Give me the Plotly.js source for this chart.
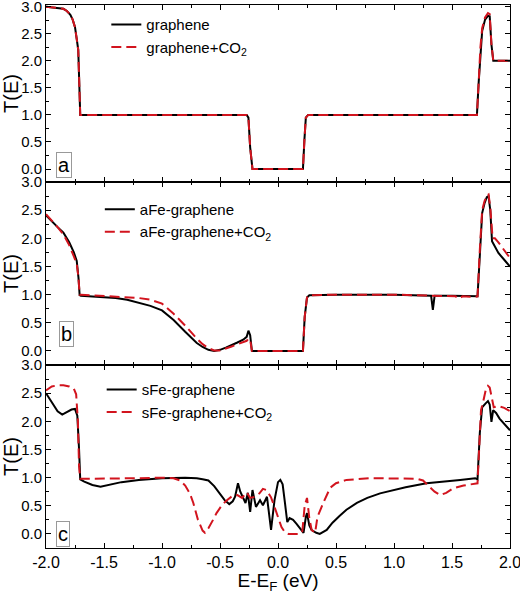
<!DOCTYPE html>
<html><head><meta charset="utf-8">
<script src="https://cdn.plot.ly/plotly-3.0.1.min.js"></script>
<style>html,body{margin:0;padding:0;background:#fff}#chart{width:520px;height:594px}</style>
</head><body><div id="chart"></div>
<script>
// Panel a: graphene
const xA_g = [-2.0,-1.95,-1.9,-1.85,-1.82,-1.79,-1.77,-1.75,-1.735,-1.722,-1.712,-1.705,-1.69,-1.5,-1.0,-0.5,-0.27,-0.255,-0.24,-0.22,0.0,0.215,0.228,0.24,0.26,0.5,1.0,1.5,1.715,1.73,1.745,1.76,1.785,1.81,1.825,1.84,1.856,1.9,2.0];
const tA_g = [3.0,2.99,2.98,2.96,2.92,2.85,2.76,2.62,2.4,2.2,1.5,1.0,1.0,1.0,1.0,1.0,1.0,0.95,0.4,0.0,0.0,0.0,0.55,0.95,1.0,1.0,1.0,1.0,1.0,1.6,2.2,2.55,2.76,2.83,2.82,2.3,2.0,2.0,2.0];
const xA_c = [-2.0,-1.95,-1.9,-1.85,-1.82,-1.79,-1.77,-1.75,-1.735,-1.722,-1.712,-1.705,-1.69,-1.5,-1.0,-0.5,-0.27,-0.255,-0.24,-0.22,0.0,0.215,0.228,0.24,0.26,0.5,1.0,1.5,1.715,1.73,1.745,1.76,1.785,1.81,1.825,1.84,1.856,1.9,2.0];
const tA_c = [3.0,2.99,2.98,2.96,2.92,2.85,2.76,2.62,2.4,2.2,1.5,1.0,1.0,1.0,1.0,1.0,1.0,0.95,0.4,0.0,0.0,0.0,0.55,0.95,1.0,1.0,1.0,1.0,1.0,1.6,2.25,2.6,2.8,2.88,2.86,2.3,2.0,2.0,2.0];

// Panel b: aFe-graphene
const xB_g = [-2.0,-1.95,-1.9,-1.85,-1.8,-1.76,-1.735,-1.72,-1.71,-1.7,-1.6,-1.5,-1.4,-1.3,-1.2,-1.1,-1.0,-0.9,-0.8,-0.7,-0.65,-0.6,-0.55,-0.5,-0.45,-0.4,-0.35,-0.3,-0.27,-0.255,-0.24,-0.225,-0.2,0.0,0.215,0.23,0.25,0.27,0.5,1.0,1.3,1.32,1.335,1.35,1.5,1.6,1.7,1.72,1.74,1.76,1.78,1.80,1.815,1.83,1.845,1.87,1.9,1.95,2.0];
const tB_g = [2.41,2.3,2.2,2.1,1.93,1.75,1.6,1.3,0.99,0.98,0.97,0.96,0.94,0.91,0.86,0.8,0.72,0.55,0.34,0.14,0.07,0.02,0.0,0.02,0.06,0.1,0.15,0.2,0.25,0.36,0.28,0.0,0.0,0.0,0.0,0.6,0.95,0.99,1.0,1.0,0.99,0.98,0.73,0.98,0.98,0.97,0.96,0.97,1.7,2.45,2.62,2.73,2.75,2.5,1.95,1.85,1.74,1.62,1.5];
const xB_c = [-2.0,-1.95,-1.9,-1.85,-1.8,-1.76,-1.735,-1.72,-1.71,-1.7,-1.6,-1.5,-1.4,-1.3,-1.2,-1.1,-1.0,-0.9,-0.8,-0.7,-0.65,-0.6,-0.55,-0.5,-0.45,-0.4,-0.35,-0.3,-0.27,-0.255,-0.24,-0.225,-0.2,0.0,0.215,0.23,0.25,0.27,0.5,1.0,1.5,1.53,1.56,1.59,1.7,1.72,1.74,1.76,1.78,1.80,1.815,1.83,1.85,1.87,1.9,1.95,2.0];
const tB_c = [2.43,2.32,2.2,2.07,1.88,1.68,1.55,1.3,1.0,1.0,0.99,0.98,0.97,0.96,0.94,0.91,0.84,0.66,0.45,0.22,0.12,0.05,0.01,0.01,0.04,0.08,0.12,0.16,0.18,0.22,0.2,0.0,0.0,0.0,0.0,0.6,0.95,0.99,1.0,1.0,0.98,0.97,0.93,0.97,0.96,0.97,1.8,2.5,2.66,2.76,2.78,2.55,2.0,2.0,1.93,1.8,1.65];

// Panel c: sFe-graphene
const xC_g = [-2.0,-1.95,-1.9,-1.86,-1.82,-1.78,-1.75,-1.73,-1.715,-1.705,-1.67,-1.6,-1.53,-1.45,-1.35,-1.2,-1.0,-0.8,-0.7,-0.65,-0.6,-0.55,-0.5,-0.46,-0.42,-0.39,-0.37,-0.345,-0.325,-0.31,-0.28,-0.26,-0.24,-0.22,-0.19,-0.155,-0.13,-0.095,-0.06,-0.03,0.0,0.02,0.04,0.06,0.08,0.10,0.13,0.16,0.19,0.22,0.24,0.25,0.27,0.29,0.33,0.36,0.42,0.47,0.53,0.59,0.68,0.77,0.88,0.99,1.1,1.28,1.4,1.57,1.70,1.72,1.74,1.76,1.79,1.81,1.825,1.84,1.855,1.88,1.91,1.95,2.0];
const tC_g = [2.5,2.33,2.18,2.12,2.17,2.21,2.22,2.1,1.5,0.97,0.93,0.87,0.84,0.87,0.92,0.96,0.99,1.0,0.99,0.97,0.95,0.85,0.72,0.6,0.53,0.58,0.66,0.9,0.75,0.69,0.55,0.73,0.39,0.78,0.48,0.6,0.51,0.66,0.07,0.6,0.92,0.96,0.88,0.55,0.21,0.28,0.25,0.18,0.1,0.02,0.3,0.37,0.15,0.07,0.02,0.0,0.07,0.2,0.32,0.43,0.55,0.64,0.72,0.78,0.83,0.9,0.93,0.96,0.99,0.97,1.8,2.25,2.32,2.36,2.3,1.99,2.2,2.15,2.05,1.96,1.84];
const xC_c = [-2.0,-1.95,-1.9,-1.85,-1.8,-1.76,-1.74,-1.725,-1.715,-1.705,-1.6,-1.4,-1.2,-1.0,-0.9,-0.845,-0.8,-0.76,-0.73,-0.69,-0.65,-0.63,-0.6,-0.56,-0.53,-0.48,-0.44,-0.39,-0.35,-0.31,-0.27,-0.24,-0.2,-0.16,-0.13,-0.1,-0.06,-0.03,0.0,0.03,0.06,0.09,0.19,0.21,0.23,0.25,0.27,0.29,0.32,0.34,0.39,0.45,0.5,0.59,0.8,0.99,1.2,1.25,1.3,1.35,1.40,1.45,1.51,1.6,1.72,1.735,1.75,1.77,1.79,1.81,1.825,1.84,1.86,1.9,1.95,2.0];
const tC_c = [2.55,2.62,2.64,2.64,2.62,2.58,2.48,2.0,1.2,0.98,0.98,0.98,0.99,1.0,0.99,0.95,0.86,0.72,0.55,0.25,0.06,0.02,0.1,0.25,0.37,0.52,0.6,0.68,0.69,0.64,0.74,0.64,0.66,0.72,0.8,0.78,0.65,0.48,0.3,0.12,0.03,0.0,0.0,0.05,0.5,0.64,0.28,0.07,0.02,0.3,0.55,0.82,0.9,0.96,0.99,0.99,0.98,0.95,0.85,0.75,0.69,0.73,0.81,0.86,0.9,1.5,2.2,2.36,2.55,2.63,2.6,2.45,2.25,2.27,2.24,2.18];

const names = ["graphene","graphene+CO<sub>2</sub>","aFe-graphene","aFe-graphene+CO<sub>2</sub>","sFe-graphene","sFe-graphene+CO<sub>2</sub>"];
const panelLabels = ["a","b","c"];
const xTickVals = [-2.0,-1.5,-1.0,-0.5,0.0,0.5,1.0,1.5,2.0];
const yTickVals = [0.0,0.5,1.0,1.5,2.0,2.5,3.0];

const RED = "#d2141e";
const blackLine = {color:"#000", width:2};
const redLine = {color:RED, width:2, dash:"10px,5px"};

const traces = [
  {x:xA_g,y:tA_g,name:names[0],xaxis:"x",yaxis:"y",line:blackLine,legend:"legend"},
  {x:xA_c,y:tA_c,name:names[1],xaxis:"x",yaxis:"y",line:redLine,legend:"legend"},
  {x:xB_g,y:tB_g,name:names[2],xaxis:"x2",yaxis:"y2",line:blackLine,legend:"legend2"},
  {x:xB_c,y:tB_c,name:names[3],xaxis:"x2",yaxis:"y2",line:redLine,legend:"legend2"},
  {x:xC_g,y:tC_g,name:names[4],xaxis:"x3",yaxis:"y3",line:blackLine,legend:"legend3"},
  {x:xC_c,y:tC_c,name:names[5],xaxis:"x3",yaxis:"y3",line:redLine,legend:"legend3"}
].map(t=>Object.assign({type:"scatter",mode:"lines"},t));

const FONT = "Liberation Sans, Arial, sans-serif";
function xax(anchor, labels){
  return {anchor:anchor, domain:[0,1], range:[-2,2], tickvals:xTickVals, ticktext:xTickVals.map(v=>v.toFixed(1)),
    showticklabels:labels, ticklabeloverflow:"allow", showline:true, linecolor:"#000", linewidth:1, mirror:"ticks",
    ticks:"inside", ticklen:5, tickcolor:"#000", showgrid:false, zeroline:false,
    minor:{dtick:0.25, tick0:0, ticks:"inside", ticklen:3, tickcolor:"#000", showgrid:false},
    tickfont:{family:FONT,size:16,color:"#000"}};
}
function yax(anchor, dom, rng){
  return {anchor:anchor, domain:dom, range:rng, tickvals:yTickVals, ticktext:yTickVals.map(v=>v.toFixed(1)),
    ticklabeloverflow:"allow", showline:true, linecolor:"#000", linewidth:1, mirror:"ticks",
    ticks:"inside", ticklen:5, tickcolor:"#000", showgrid:false, zeroline:false,
    minor:{dtick:0.25, tick0:0, ticks:"inside", ticklen:3, tickcolor:"#000", showgrid:false},
    tickfont:{family:FONT,size:15,color:"#000"},
    title:{text:"T(E)", font:{family:FONT,size:20,color:"#000"}, standoff:4}};
}
function leg(x,y){
  return {x:x, y:y, xanchor:"left", yanchor:"top", bgcolor:"rgba(0,0,0,0)", borderwidth:0,
    font:{family:FONT,size:15,color:"#000"}, tracegroupgap:0, itemwidth:30};
}
const xaxis3 = xax("y3", true);
xaxis3.title = {text:"E-E<sub>F</sub> (eV)", font:{family:FONT,size:19,color:"#000"}, standoff:6};

const layout = {
  width:520, height:594, margin:{l:46,r:10,t:5,b:46},
  paper_bgcolor:"#fff", plot_bgcolor:"#fff", showlegend:true,
  xaxis: xax("y", false),
  xaxis2: xax("y2", false),
  xaxis3: xaxis3,
  yaxis: yax("x", [0.674,1], [-0.24,3.03]),
  yaxis2: yax("x2", [0.337,0.674], [-0.25,3.001]),
  yaxis3: yax("x3", [0,0.337], [-0.25,3.001]),
  legend: leg(0.13,0.994),
  legend2: leg(0.116,0.654),
  legend3: leg(0.12,0.322),
  annotations: panelLabels.map((t,i)=>({text:t, xref:"paper", yref:"paper",
    x:[0.039,0.045,0.037][i], y:[0.705,0.394,0.026][i], xanchor:"center", yanchor:"middle",
    showarrow:false, bordercolor:"#999", borderwidth:1, borderpad:1,
    font:{family:FONT,size:20,color:"#000"}}))
};
Plotly.newPlot("chart", traces, layout, {displayModeBar:false, staticPlot:true});
</script></body></html>
